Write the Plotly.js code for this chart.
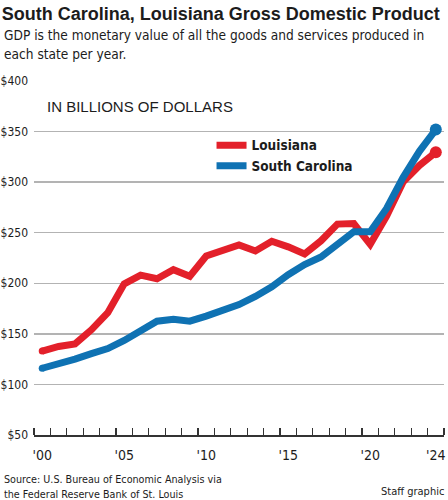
<!DOCTYPE html>
<html>
<head>
<meta charset="utf-8">
<script src="https://cdn.plot.ly/plotly-3.0.1.min.js"></script>
<style>
  html, body { margin: 0; padding: 0; background: #fff; }
  #chart { width: 448px; height: 500px; }
</style>
</head>
<body>
<div id="chart"></div>
<script>
// Annual GDP, billions of dollars
const years = [2000, 2001, 2002, 2003, 2004, 2005, 2006, 2007, 2008, 2009, 2010, 2011,
               2012, 2013, 2014, 2015, 2016, 2017, 2018, 2019, 2020, 2021, 2022, 2023, 2024];
const louisiana = [133, 137.5, 140, 154, 171, 199.5, 208, 204.5, 213.5, 207, 227, 232,
                   238, 232, 241.5, 236, 229, 242, 258.5, 259, 238.5, 266.5, 300, 316.5, 329.5];
const southCarolina = [116, 120, 125, 130.5, 135.5, 143.5, 152.5, 162.5, 164.5, 162.5, 167.5, 173,
                       179, 187, 196.5, 208.5, 218.5, 226, 238.5, 251, 251, 274, 304.5, 330.5, 352];

const yTickVals = [50, 100, 150, 200, 250, 300, 350, 400];
const yTickText = ['$50', '$100', '$150', '$200', '$250', '$300', '$350', '$400'];
const xTickVals = [2000, 2005, 2010, 2015, 2020, 2024];
const xTickText = ["'00", "'05", "'10", "'15", "'20", "'24"];

const RED = '#e3202a';
const BLUE = '#0f72b3';
const FONT = '"DejaVu Sans Condensed", "DejaVu Sans", sans-serif';
const HEAD_FONT = '"Liberation Sans", Arial, sans-serif';
const INK = '#1c1c1c';

const last = years.length - 1;

function lineTrace(name, values, color) {
  return {
    type: 'scatter', mode: 'lines', name: name,
    x: years, y: values,
    line: { color: color, width: 7, shape: 'linear' },
    cliponaxis: false, hoverinfo: 'skip'
  };
}

// Round start cap and the larger end dot for each series
function capTrace(values, color) {
  return {
    type: 'scatter', mode: 'markers', showlegend: false,
    x: [years[0], years[last]], y: [values[0], values[last]],
    marker: { color: color, size: [7, 12], opacity: 1, line: { width: 0 } },
    cliponaxis: false, hoverinfo: 'skip'
  };
}

const data = [
  lineTrace('Louisiana', louisiana, RED),
  capTrace(louisiana, RED),
  lineTrace('South Carolina', southCarolina, BLUE),
  capTrace(southCarolina, BLUE)
];

const layout = {
  width: 448, height: 500,
  margin: { l: 34, r: 4, t: 81, b: 65, pad: 0 },
  paper_bgcolor: '#fff', plot_bgcolor: '#fff',
  font: { family: FONT, color: INK, size: 12 },
  showlegend: true,
  title: {
    text: 'South Carolina, Louisiana Gross Domestic Product',
    font: { family: HEAD_FONT, size: 18, weight: 'bold', color: INK },
    x: 0.004, xanchor: 'left', xref: 'container',
    y: 0.973, yanchor: 'middle', yref: 'container'
  },
  legend: {
    x: 0.433, xanchor: 'left', y: 0.862, yanchor: 'top',
    bgcolor: 'rgba(0,0,0,0)', borderwidth: 0,
    font: { family: FONT, size: 13.5, weight: 'bold', color: INK },
    tracegroupgap: 0
  },
  xaxis: {
    range: [1999.5, 2024.5], autorange: false, fixedrange: true,
    tickmode: 'array', tickvals: xTickVals, ticktext: xTickText,
    ticks: '', showgrid: false, zeroline: false,
    showline: true, linecolor: '#333', linewidth: 1.5,
    tickfont: { family: FONT, size: 14, color: INK },
    ticklabelstandoff: 7,
    minor: { tick0: 1999.5, dtick: 1, ticks: 'inside', ticklen: 7, tickwidth: 1.2, tickcolor: '#333', showgrid: false }
  },
  yaxis: {
    range: [50, 400], autorange: false, fixedrange: true,
    tickmode: 'array', tickvals: yTickVals, ticktext: yTickText,
    ticks: '', showgrid: true, gridcolor: '#b3b3b3', gridwidth: 1.5,
    zeroline: false, showline: false,
    tickfont: { family: FONT, size: 12, color: INK },
    ticklabelstandoff: 5
  },
  annotations: [
    { text: 'GDP is the monetary value of all the goods and services produced in',
      xref: 'paper', yref: 'paper', x: -0.079, y: 1.13, xanchor: 'left', yanchor: 'middle',
      showarrow: false, font: { family: FONT, size: 13.6, color: INK } },
    { text: 'each state per year.',
      xref: 'paper', yref: 'paper', x: -0.079, y: 1.077, xanchor: 'left', yanchor: 'middle',
      showarrow: false, font: { family: FONT, size: 13.6, color: INK } },
    { text: 'IN BILLIONS OF DOLLARS',
      xref: 'paper', yref: 'paper', x: 0.026, y: 0.929, xanchor: 'left', yanchor: 'middle',
      showarrow: false, font: { family: HEAD_FONT, size: 15, color: INK } },
    { text: 'Source: U.S. Bureau of Economic Analysis via',
      xref: 'paper', yref: 'paper', x: -0.079, y: -0.125, xanchor: 'left', yanchor: 'middle',
      showarrow: false, font: { family: FONT, size: 10.7, color: INK } },
    { text: 'the Federal Reserve Bank of St. Louis',
      xref: 'paper', yref: 'paper', x: -0.079, y: -0.167, xanchor: 'left', yanchor: 'middle',
      showarrow: false, font: { family: FONT, size: 10.7, color: INK } },
    { text: 'Staff graphic',
      xref: 'paper', yref: 'paper', x: 1.004, y: -0.16, xanchor: 'right', yanchor: 'middle',
      showarrow: false, font: { family: FONT, size: 11, color: INK } }
  ]
};

Plotly.newPlot('chart', data, layout, { staticPlot: true, displayModeBar: false });
</script>
</body>
</html>
